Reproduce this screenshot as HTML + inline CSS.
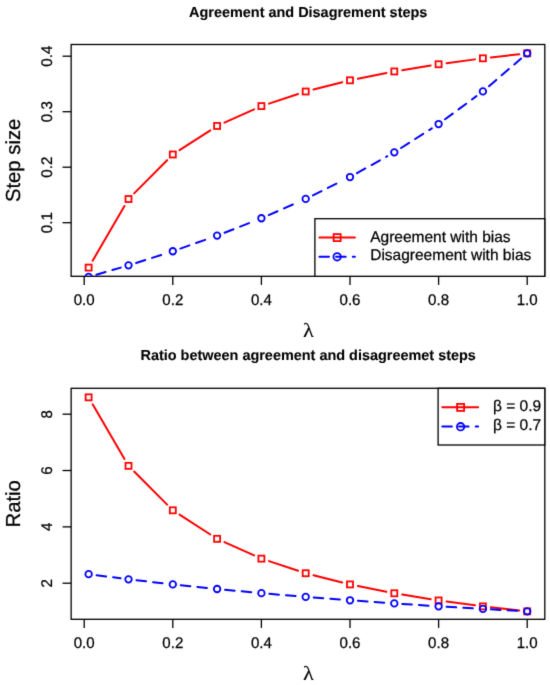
<!DOCTYPE html>
<html><head><meta charset="utf-8"><title>Agreement and Disagreement steps</title>
<style>
html,body{margin:0;padding:0;background:#fff;}
body{width:550px;height:685px;overflow:hidden;}
svg{display:block;}
text{text-rendering:geometricPrecision;stroke:#000;stroke-width:0.25px;}
.ax{font-family:"Liberation Sans",Arial,sans-serif;font-size:15.4px;fill:#000;}
.lg{font-family:"Liberation Sans",Arial,sans-serif;font-size:15.5px;fill:#000;}
.tt{font-family:"Liberation Sans",Arial,sans-serif;font-size:14.45px;font-weight:bold;fill:#000;stroke-width:0.1px;}
.lb{font-family:"Liberation Sans",Arial,sans-serif;font-size:20.3px;fill:#000;}
.lam{font-family:"Liberation Serif","DejaVu Serif",serif;font-size:20px;fill:#000;stroke-width:0.1px;}
</style></head>
<body>
<svg width="550" height="685" viewBox="0 0 550 685">
<defs><filter id="soft" x="0" y="0" width="550" height="685" filterUnits="userSpaceOnUse" color-interpolation-filters="sRGB"><feConvolveMatrix order="3" kernelMatrix="0.01134 0.08382 0.01134 0.08382 0.61935 0.08382 0.01134 0.08382 0.01134" edgeMode="duplicate"/></filter></defs>
<g filter="url(#soft)">
<rect width="550" height="685" fill="#fff"/>
<defs><clipPath id="c1"><rect x="71.15" y="44.5" width="473.65" height="231.8"/></clipPath><clipPath id="c2"><rect x="71.15" y="388.3" width="473.65" height="230.99999999999994"/></clipPath></defs>
<rect x="71.15" y="44.5" width="473.65" height="231.80" fill="none" stroke="#000" stroke-width="1.3"/>
<line x1="84.20" y1="276.3" x2="84.20" y2="284.90" stroke="#000" stroke-width="1.3"/>
<text transform="translate(84.20 304.90) scale(0.98 1)" class="ax" text-anchor="middle">0.0</text>
<line x1="172.80" y1="276.3" x2="172.80" y2="284.90" stroke="#000" stroke-width="1.3"/>
<text transform="translate(172.80 304.90) scale(0.98 1)" class="ax" text-anchor="middle">0.2</text>
<line x1="261.40" y1="276.3" x2="261.40" y2="284.90" stroke="#000" stroke-width="1.3"/>
<text transform="translate(261.40 304.90) scale(0.98 1)" class="ax" text-anchor="middle">0.4</text>
<line x1="350.00" y1="276.3" x2="350.00" y2="284.90" stroke="#000" stroke-width="1.3"/>
<text transform="translate(350.00 304.90) scale(0.98 1)" class="ax" text-anchor="middle">0.6</text>
<line x1="438.60" y1="276.3" x2="438.60" y2="284.90" stroke="#000" stroke-width="1.3"/>
<text transform="translate(438.60 304.90) scale(0.98 1)" class="ax" text-anchor="middle">0.8</text>
<line x1="527.20" y1="276.3" x2="527.20" y2="284.90" stroke="#000" stroke-width="1.3"/>
<text transform="translate(527.20 304.90) scale(0.98 1)" class="ax" text-anchor="middle">1.0</text>
<line x1="62.55" y1="222.70" x2="71.15" y2="222.70" stroke="#000" stroke-width="1.3"/>
<text transform="translate(51.7 222.70) rotate(-90) scale(0.98 1)" class="ax" text-anchor="middle">0.1</text>
<line x1="62.55" y1="167.20" x2="71.15" y2="167.20" stroke="#000" stroke-width="1.3"/>
<text transform="translate(51.7 167.20) rotate(-90) scale(0.98 1)" class="ax" text-anchor="middle">0.2</text>
<line x1="62.55" y1="111.70" x2="71.15" y2="111.70" stroke="#000" stroke-width="1.3"/>
<text transform="translate(51.7 111.70) rotate(-90) scale(0.98 1)" class="ax" text-anchor="middle">0.3</text>
<line x1="62.55" y1="56.20" x2="71.15" y2="56.20" stroke="#000" stroke-width="1.3"/>
<text transform="translate(51.7 56.20) rotate(-90) scale(0.98 1)" class="ax" text-anchor="middle">0.4</text>
<text x="308.2" y="16.90" class="tt" text-anchor="middle">Agreement and Disagrement steps</text>
<text transform="translate(19.6 160.40) rotate(-90)" class="lb" text-anchor="middle">Step size</text>
<text transform="translate(308.4 336.80) scale(1.12 1)" class="lam" text-anchor="middle">λ</text>
<g clip-path="url(#c1)">
<line x1="92.65" y1="260.70" x2="124.48" y2="205.95" stroke="#ff0000" stroke-width="2.0" stroke-linecap="round"/>
<line x1="134.14" y1="193.36" x2="167.16" y2="160.17" stroke="#ff0000" stroke-width="2.0" stroke-linecap="round"/>
<line x1="179.53" y1="150.17" x2="210.37" y2="130.29" stroke="#ff0000" stroke-width="2.0" stroke-linecap="round"/>
<line x1="224.40" y1="122.69" x2="254.10" y2="109.38" stroke="#ff0000" stroke-width="2.0" stroke-linecap="round"/>
<line x1="269.00" y1="103.60" x2="298.10" y2="94.00" stroke="#ff0000" stroke-width="2.0" stroke-linecap="round"/>
<line x1="313.46" y1="89.53" x2="342.24" y2="82.26" stroke="#ff0000" stroke-width="2.0" stroke-linecap="round"/>
<line x1="357.84" y1="78.73" x2="386.46" y2="73.00" stroke="#ff0000" stroke-width="2.0" stroke-linecap="round"/>
<line x1="402.20" y1="70.15" x2="430.70" y2="65.53" stroke="#ff0000" stroke-width="2.0" stroke-linecap="round"/>
<line x1="446.53" y1="63.19" x2="474.97" y2="59.37" stroke="#ff0000" stroke-width="2.0" stroke-linecap="round"/>
<line x1="490.85" y1="57.41" x2="519.25" y2="54.21" stroke="#ff0000" stroke-width="2.0" stroke-linecap="round"/>
<rect x="85.63" y="264.61" width="6.0" height="6.0" fill="none" stroke="#ff0000" stroke-width="1.8"/>
<rect x="125.50" y="196.03" width="6.0" height="6.0" fill="none" stroke="#ff0000" stroke-width="1.8"/>
<rect x="169.80" y="151.50" width="6.0" height="6.0" fill="none" stroke="#ff0000" stroke-width="1.8"/>
<rect x="214.10" y="122.96" width="6.0" height="6.0" fill="none" stroke="#ff0000" stroke-width="1.8"/>
<rect x="258.40" y="103.10" width="6.0" height="6.0" fill="none" stroke="#ff0000" stroke-width="1.8"/>
<rect x="302.70" y="88.50" width="6.0" height="6.0" fill="none" stroke="#ff0000" stroke-width="1.8"/>
<rect x="347.00" y="77.30" width="6.0" height="6.0" fill="none" stroke="#ff0000" stroke-width="1.8"/>
<rect x="391.30" y="68.44" width="6.0" height="6.0" fill="none" stroke="#ff0000" stroke-width="1.8"/>
<rect x="435.60" y="61.25" width="6.0" height="6.0" fill="none" stroke="#ff0000" stroke-width="1.8"/>
<rect x="479.90" y="55.31" width="6.0" height="6.0" fill="none" stroke="#ff0000" stroke-width="1.8"/>
<rect x="524.20" y="50.31" width="6.0" height="6.0" fill="none" stroke="#ff0000" stroke-width="1.8"/>
<line x1="96.31" y1="274.73" x2="120.82" y2="267.60" stroke="#0000ff" stroke-width="2.0" stroke-linecap="round" stroke-dasharray="9.6 7.1"/>
<line x1="136.12" y1="262.93" x2="165.18" y2="253.67" stroke="#0000ff" stroke-width="2.0" stroke-linecap="round" stroke-dasharray="9.6 7.1"/>
<line x1="180.35" y1="248.58" x2="209.55" y2="238.28" stroke="#0000ff" stroke-width="2.0" stroke-linecap="round" stroke-dasharray="9.6 7.1"/>
<line x1="224.55" y1="232.70" x2="253.95" y2="221.19" stroke="#0000ff" stroke-width="2.0" stroke-linecap="round" stroke-dasharray="9.6 7.1"/>
<line x1="268.73" y1="215.06" x2="298.37" y2="202.08" stroke="#0000ff" stroke-width="2.0" stroke-linecap="round" stroke-dasharray="9.6 7.1"/>
<line x1="312.88" y1="195.34" x2="342.82" y2="180.59" stroke="#0000ff" stroke-width="2.0" stroke-linecap="round" stroke-dasharray="9.6 7.1"/>
<line x1="356.98" y1="173.15" x2="387.32" y2="156.21" stroke="#0000ff" stroke-width="2.0" stroke-linecap="round" stroke-dasharray="9.6 7.1"/>
<line x1="401.04" y1="148.01" x2="431.86" y2="128.34" stroke="#0000ff" stroke-width="2.0" stroke-linecap="round" stroke-dasharray="9.6 7.1"/>
<line x1="445.04" y1="119.29" x2="476.46" y2="96.15" stroke="#0000ff" stroke-width="2.0" stroke-linecap="round" stroke-dasharray="9.6 7.1"/>
<line x1="488.97" y1="86.18" x2="521.13" y2="58.53" stroke="#0000ff" stroke-width="2.0" stroke-linecap="round" stroke-dasharray="9.6 7.1"/>
<circle cx="88.63" cy="276.97" r="3.25" fill="none" stroke="#0000ff" stroke-width="1.8"/>
<circle cx="128.50" cy="265.36" r="3.25" fill="none" stroke="#0000ff" stroke-width="1.8"/>
<circle cx="172.80" cy="251.24" r="3.25" fill="none" stroke="#0000ff" stroke-width="1.8"/>
<circle cx="217.10" cy="235.62" r="3.25" fill="none" stroke="#0000ff" stroke-width="1.8"/>
<circle cx="261.40" cy="218.27" r="3.25" fill="none" stroke="#0000ff" stroke-width="1.8"/>
<circle cx="305.70" cy="198.88" r="3.25" fill="none" stroke="#0000ff" stroke-width="1.8"/>
<circle cx="350.00" cy="177.05" r="3.25" fill="none" stroke="#0000ff" stroke-width="1.8"/>
<circle cx="394.30" cy="152.31" r="3.25" fill="none" stroke="#0000ff" stroke-width="1.8"/>
<circle cx="438.60" cy="124.04" r="3.25" fill="none" stroke="#0000ff" stroke-width="1.8"/>
<circle cx="482.90" cy="91.40" r="3.25" fill="none" stroke="#0000ff" stroke-width="1.8"/>
<circle cx="527.20" cy="53.31" r="3.25" fill="none" stroke="#0000ff" stroke-width="1.8"/>
</g>
<rect x="314.9" y="218.7" width="229.90" height="57.60" fill="#fff" stroke="#000" stroke-width="1.3"/>
<line x1="319.4" y1="237.6" x2="354.9" y2="237.6" stroke="#ff0000" stroke-width="2.0" stroke-linecap="round"/>
<rect x="333.65" y="234.10" width="7.0" height="7.0" fill="none" stroke="#ff0000" stroke-width="1.8"/>
<line x1="319.4" y1="256.8" x2="354.9" y2="256.8" stroke="#0000ff" stroke-width="2.0" stroke-linecap="round" stroke-dasharray="9.6 7.1"/>
<circle cx="337.15" cy="256.80" r="3.7" fill="none" stroke="#0000ff" stroke-width="1.8"/>
<text x="370.2" y="241.5" class="lg">Agreement with bias</text>
<text x="370.2" y="260.3" class="lg">Disagreement with bias</text>
<rect x="71.15" y="388.3" width="473.65" height="231.00" fill="none" stroke="#000" stroke-width="1.3"/>
<line x1="84.20" y1="619.3" x2="84.20" y2="627.90" stroke="#000" stroke-width="1.3"/>
<text transform="translate(84.20 648.40) scale(0.98 1)" class="ax" text-anchor="middle">0.0</text>
<line x1="172.80" y1="619.3" x2="172.80" y2="627.90" stroke="#000" stroke-width="1.3"/>
<text transform="translate(172.80 648.40) scale(0.98 1)" class="ax" text-anchor="middle">0.2</text>
<line x1="261.40" y1="619.3" x2="261.40" y2="627.90" stroke="#000" stroke-width="1.3"/>
<text transform="translate(261.40 648.40) scale(0.98 1)" class="ax" text-anchor="middle">0.4</text>
<line x1="350.00" y1="619.3" x2="350.00" y2="627.90" stroke="#000" stroke-width="1.3"/>
<text transform="translate(350.00 648.40) scale(0.98 1)" class="ax" text-anchor="middle">0.6</text>
<line x1="438.60" y1="619.3" x2="438.60" y2="627.90" stroke="#000" stroke-width="1.3"/>
<text transform="translate(438.60 648.40) scale(0.98 1)" class="ax" text-anchor="middle">0.8</text>
<line x1="527.20" y1="619.3" x2="527.20" y2="627.90" stroke="#000" stroke-width="1.3"/>
<text transform="translate(527.20 648.40) scale(0.98 1)" class="ax" text-anchor="middle">1.0</text>
<line x1="62.55" y1="583.20" x2="71.15" y2="583.20" stroke="#000" stroke-width="1.3"/>
<text transform="translate(51.7 583.20) rotate(-90) scale(0.98 1)" class="ax" text-anchor="middle">2</text>
<line x1="62.55" y1="526.86" x2="71.15" y2="526.86" stroke="#000" stroke-width="1.3"/>
<text transform="translate(51.7 526.86) rotate(-90) scale(0.98 1)" class="ax" text-anchor="middle">4</text>
<line x1="62.55" y1="470.52" x2="71.15" y2="470.52" stroke="#000" stroke-width="1.3"/>
<text transform="translate(51.7 470.52) rotate(-90) scale(0.98 1)" class="ax" text-anchor="middle">6</text>
<line x1="62.55" y1="414.18" x2="71.15" y2="414.18" stroke="#000" stroke-width="1.3"/>
<text transform="translate(51.7 414.18) rotate(-90) scale(0.98 1)" class="ax" text-anchor="middle">8</text>
<text x="308.2" y="360.00" class="tt" text-anchor="middle">Ratio between agreement and disagreemet steps</text>
<text transform="translate(19.6 503.80) rotate(-90)" class="lb" text-anchor="middle">Ratio</text>
<text transform="translate(308.4 680.20) scale(1.12 1)" class="lam" text-anchor="middle">λ</text>
<g clip-path="url(#c2)">
<line x1="92.65" y1="404.25" x2="124.48" y2="458.92" stroke="#ff0000" stroke-width="2.0" stroke-linecap="round"/>
<line x1="134.15" y1="471.51" x2="167.15" y2="504.64" stroke="#ff0000" stroke-width="2.0" stroke-linecap="round"/>
<line x1="179.53" y1="514.64" x2="210.37" y2="534.49" stroke="#ff0000" stroke-width="2.0" stroke-linecap="round"/>
<line x1="224.40" y1="542.09" x2="254.10" y2="555.38" stroke="#ff0000" stroke-width="2.0" stroke-linecap="round"/>
<line x1="269.00" y1="561.15" x2="298.10" y2="570.73" stroke="#ff0000" stroke-width="2.0" stroke-linecap="round"/>
<line x1="313.46" y1="575.20" x2="342.24" y2="582.46" stroke="#ff0000" stroke-width="2.0" stroke-linecap="round"/>
<line x1="357.85" y1="585.99" x2="386.45" y2="591.70" stroke="#ff0000" stroke-width="2.0" stroke-linecap="round"/>
<line x1="402.20" y1="594.55" x2="430.70" y2="599.17" stroke="#ff0000" stroke-width="2.0" stroke-linecap="round"/>
<line x1="446.53" y1="601.51" x2="474.97" y2="605.32" stroke="#ff0000" stroke-width="2.0" stroke-linecap="round"/>
<line x1="490.85" y1="607.28" x2="519.25" y2="610.47" stroke="#ff0000" stroke-width="2.0" stroke-linecap="round"/>
<rect x="85.63" y="394.34" width="6.0" height="6.0" fill="none" stroke="#ff0000" stroke-width="1.8"/>
<rect x="125.50" y="462.84" width="6.0" height="6.0" fill="none" stroke="#ff0000" stroke-width="1.8"/>
<rect x="169.80" y="507.31" width="6.0" height="6.0" fill="none" stroke="#ff0000" stroke-width="1.8"/>
<rect x="214.10" y="535.82" width="6.0" height="6.0" fill="none" stroke="#ff0000" stroke-width="1.8"/>
<rect x="258.40" y="555.65" width="6.0" height="6.0" fill="none" stroke="#ff0000" stroke-width="1.8"/>
<rect x="302.70" y="570.24" width="6.0" height="6.0" fill="none" stroke="#ff0000" stroke-width="1.8"/>
<rect x="347.00" y="581.42" width="6.0" height="6.0" fill="none" stroke="#ff0000" stroke-width="1.8"/>
<rect x="391.30" y="590.27" width="6.0" height="6.0" fill="none" stroke="#ff0000" stroke-width="1.8"/>
<rect x="435.60" y="597.45" width="6.0" height="6.0" fill="none" stroke="#ff0000" stroke-width="1.8"/>
<rect x="479.90" y="603.38" width="6.0" height="6.0" fill="none" stroke="#ff0000" stroke-width="1.8"/>
<rect x="524.20" y="608.37" width="6.0" height="6.0" fill="none" stroke="#ff0000" stroke-width="1.8"/>
<line x1="96.56" y1="575.21" x2="120.57" y2="578.29" stroke="#0000ff" stroke-width="2.0" stroke-linecap="round" stroke-dasharray="9.6 7.1"/>
<line x1="136.45" y1="580.23" x2="164.85" y2="583.51" stroke="#0000ff" stroke-width="2.0" stroke-linecap="round" stroke-dasharray="9.6 7.1"/>
<line x1="180.76" y1="585.25" x2="209.14" y2="588.19" stroke="#0000ff" stroke-width="2.0" stroke-linecap="round" stroke-dasharray="9.6 7.1"/>
<line x1="225.07" y1="589.75" x2="253.43" y2="592.40" stroke="#0000ff" stroke-width="2.0" stroke-linecap="round" stroke-dasharray="9.6 7.1"/>
<line x1="269.37" y1="593.82" x2="297.73" y2="596.22" stroke="#0000ff" stroke-width="2.0" stroke-linecap="round" stroke-dasharray="9.6 7.1"/>
<line x1="313.68" y1="597.51" x2="342.02" y2="599.69" stroke="#0000ff" stroke-width="2.0" stroke-linecap="round" stroke-dasharray="9.6 7.1"/>
<line x1="357.98" y1="600.87" x2="386.32" y2="602.86" stroke="#0000ff" stroke-width="2.0" stroke-linecap="round" stroke-dasharray="9.6 7.1"/>
<line x1="402.28" y1="603.94" x2="430.62" y2="605.77" stroke="#0000ff" stroke-width="2.0" stroke-linecap="round" stroke-dasharray="9.6 7.1"/>
<line x1="446.59" y1="606.77" x2="474.91" y2="608.45" stroke="#0000ff" stroke-width="2.0" stroke-linecap="round" stroke-dasharray="9.6 7.1"/>
<line x1="490.89" y1="609.37" x2="519.21" y2="610.93" stroke="#0000ff" stroke-width="2.0" stroke-linecap="round" stroke-dasharray="9.6 7.1"/>
<circle cx="88.63" cy="574.19" r="3.25" fill="none" stroke="#0000ff" stroke-width="1.8"/>
<circle cx="128.50" cy="579.32" r="3.25" fill="none" stroke="#0000ff" stroke-width="1.8"/>
<circle cx="172.80" cy="584.43" r="3.25" fill="none" stroke="#0000ff" stroke-width="1.8"/>
<circle cx="217.10" cy="589.01" r="3.25" fill="none" stroke="#0000ff" stroke-width="1.8"/>
<circle cx="261.40" cy="593.14" r="3.25" fill="none" stroke="#0000ff" stroke-width="1.8"/>
<circle cx="305.70" cy="596.89" r="3.25" fill="none" stroke="#0000ff" stroke-width="1.8"/>
<circle cx="350.00" cy="600.30" r="3.25" fill="none" stroke="#0000ff" stroke-width="1.8"/>
<circle cx="394.30" cy="603.42" r="3.25" fill="none" stroke="#0000ff" stroke-width="1.8"/>
<circle cx="438.60" cy="606.29" r="3.25" fill="none" stroke="#0000ff" stroke-width="1.8"/>
<circle cx="482.90" cy="608.93" r="3.25" fill="none" stroke="#0000ff" stroke-width="1.8"/>
<circle cx="527.20" cy="611.37" r="3.25" fill="none" stroke="#0000ff" stroke-width="1.8"/>
</g>
<rect x="438.1" y="388.3" width="106.70" height="56.70" fill="#fff" stroke="#000" stroke-width="1.3"/>
<line x1="442.3" y1="407.3" x2="478.1" y2="407.3" stroke="#ff0000" stroke-width="2.0" stroke-linecap="round"/>
<rect x="457.10" y="403.90" width="7.0" height="7.0" fill="none" stroke="#ff0000" stroke-width="1.8"/>
<line x1="442.3" y1="426.5" x2="478.1" y2="426.5" stroke="#0000ff" stroke-width="2.0" stroke-linecap="round" stroke-dasharray="9.6 7.1"/>
<circle cx="460.60" cy="426.70" r="3.7" fill="none" stroke="#0000ff" stroke-width="1.8"/>
<text x="493.0" y="411.1" class="lg">β = 0.9</text>
<text x="493.0" y="430.0" class="lg">β = 0.7</text>
</g>
</svg>
</body></html>
